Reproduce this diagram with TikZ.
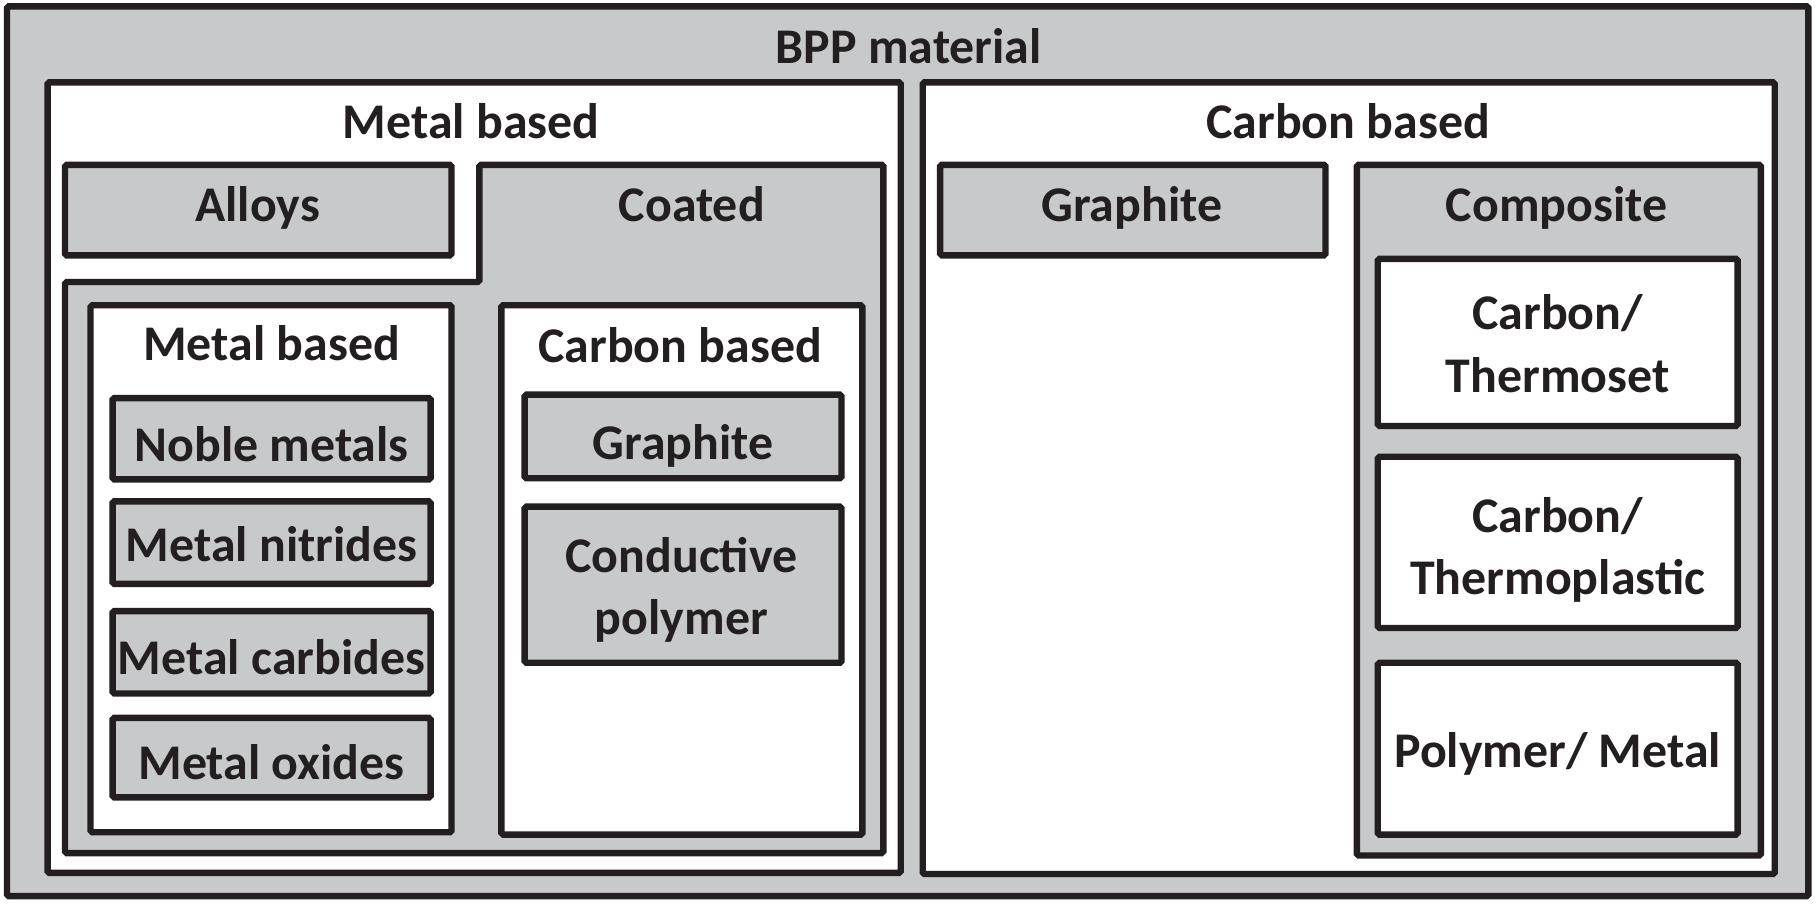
\documentclass[tikz,border=0pt]{standalone}
\usepackage{fontspec}
\setmainfont{Carlito}
\usetikzlibrary{fit}
\definecolor{boxgray}{RGB}{200,201,203}
\definecolor{ink}{RGB}{35,31,32}
\begin{document}
\begin{tikzpicture}[x=1pt,y=-1pt,
  frame/.style={draw=ink,line width=5.5pt,rounded corners=1.5pt,inner sep=0pt},
  graybox/.style={frame,fill=boxgray},
  whitebox/.style={frame,fill=white},
  lbl/.style={anchor=base,inner sep=0pt,text=ink,font=\fontsize{43}{54}\selectfont\bfseries,align=center}]
\useasboundingbox (0,0) rectangle (1568,778);
\fill[white] (0,0) rectangle (1568,778);
% outer
\node[graybox,fit={(6,5.5) (1558,772)}] (bpp) {};
\node[whitebox,fit={(41,71) (776,752)}] (metal) {};
\node[whitebox,fit={(795,71) (1529,753)}] (carbon) {};
% metal based side
\node[graybox,fit={(56,142) (389,220)}] (alloys) {};
\draw[graybox] (413,142) coordinate (coatedtop) -- (761,142) -- (761,735) -- (56,735) -- (56,243) -- (413,243) -- cycle;
\node[whitebox,fit={(78,263) (389,717)}] (cmetal) {};
\node[whitebox,fit={(432,263) (743,719)}] (ccarbon) {};
\node[graybox,fit={(97,343) (371,413)}] (noble) {};
\node[graybox,fit={(97,432) (371,503)}] (nitrides) {};
\node[graybox,fit={(97,526.5) (371,597.5)}] (carbides) {};
\node[graybox,fit={(97,618.5) (371,687)}] (oxides) {};
\node[graybox,fit={(452,340) (725,412)}] (cgraphite) {};
\node[graybox,fit={(452,436.5) (725,571)}] (cpolymer) {};
% carbon based side
\node[graybox,fit={(810,142) (1142,220)}] (graphite) {};
\node[graybox,fit={(1169,142) (1517,737)}] (composite) {};
\node[whitebox,fit={(1187,223) (1497,367)}] (thermoset) {};
\node[whitebox,fit={(1187,393.5) (1497,541)}] (thermoplastic) {};
\node[whitebox,fit={(1187,571) (1497,719)}] (polymetal) {};
% labels
\node[lbl] (t-bpp) at (783,54.5) {BPP material};
\node[lbl] (t-metal) at (406,119) {Metal based};
\node[lbl] (t-carbon) at (1161.5,119.5) {Carbon based};
\node[lbl] (t-alloys) at (222,190.5) {Alloys};
\node[lbl] (t-coated) at (596,190.5) {Coated};
\node[lbl] (t-graphite) at (975,190.5) {Graphite};
\node[lbl] (t-composite) at (1341,190.5) {Composite};
\node[lbl] (t-cmetal) at (234,311) {Metal based};
\node[lbl] (t-ccarbon) at (586,312) {Carbon based};
\node[lbl] (t-noble) at (234,397.8) {Noble metals};
\node[lbl] (t-nitrides) at (234,484) {Metal nitrides};
\node[lbl] (t-carbides) at (234,581) {Metal carbides};
\node[lbl] (t-oxides) at (234,671.6) {Metal oxides};
\node[lbl] (t-cgraphite) at (588.5,396.3) {Graphite};
\node[lbl] (t-cpolymer) at (587,547) {Conductive\\polymer};
\node[lbl] (t-thermoset) at (1342,338) {Carbon/\\Thermoset};
\node[lbl] (t-thermoplastic) at (1342,512.6) {Carbon/\\Thermoplastic};
\node[lbl] (t-polymetal) at (1342,661.6) {Polymer/ Metal};
\end{tikzpicture}
\end{document}
